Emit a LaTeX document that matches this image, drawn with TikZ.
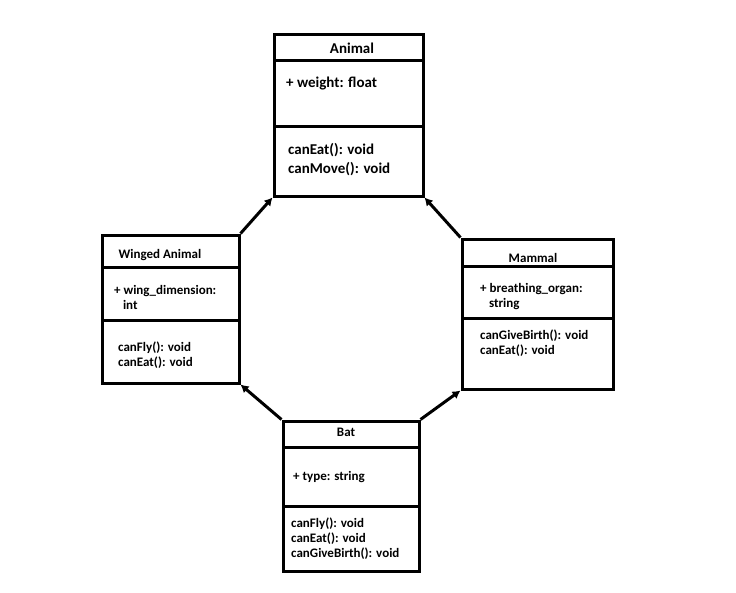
\documentclass[tikz,border=0pt]{standalone}
\usepackage{fontspec}
\setmainfont{Carlito}
\usetikzlibrary{arrows.meta}
\tikzset{
  box/.style={draw, line width=3pt, inner sep=0pt},
  txt/.style={anchor=west, align=left, font=\bfseries\fontsize{13}{15}\selectfont, inner sep=0pt},
  big/.style={font=\bfseries\fontsize{15}{19}\selectfont},
  ttl/.style={font=\bfseries\fontsize{13}{15}\selectfont, inner sep=0pt},
  inh/.style={line width=3pt, -{Latex[length=8pt,width=9pt]}}
}
\begin{document}
\begin{tikzpicture}[x=1pt, y=-1pt]
  \useasboundingbox (0,0) rectangle (736,592);

  % Animal
  \node[box, minimum width=149pt, minimum height=162pt] (animal) at (348.5,115) {};
  \draw[line width=3pt] (274,60) -- (423,60);
  \draw[line width=3pt] (274,126) -- (423,126);
  \node[ttl, big] (animalT) at (352,48) {Animal};
  \node[txt, big] (animalA) at (286,84) {+ weight: float};
  \node[txt, big] (animalM) at (288,160) {canEat(): void\\canMove(): void};

  % Winged Animal
  \node[box, minimum width=137pt, minimum height=148pt] (winged) at (170.5,309) {};
  \draw[line width=3pt] (102,267) -- (239,267);
  \draw[line width=3pt] (102,320) -- (239,320);
  \node[ttl] (wingedT) at (160,255) {Winged Animal};
  \node[txt] (wingedA) at (114,297) {+ wing\_dimension:\\\ \ \ int};
  \node[txt] (wingedM) at (118,355) {canFly(): void\\canEat(): void};

  % Mammal
  \node[box, minimum width=151pt, minimum height=150pt] (mammal) at (537.5,314) {};
  \draw[line width=3pt] (462,266) -- (613,266);
  \draw[line width=3pt] (462,318) -- (613,318);
  \node[ttl] (mammalT) at (533,258) {Mammal};
  \node[txt] (mammalA) at (480,297) {+ breathing\_organ:\\\ \ \ string};
  \node[txt] (mammalM) at (480,343) {canGiveBirth(): void\\canEat(): void};

  % Bat
  \node[box, minimum width=136pt, minimum height=150pt] (bat) at (351,496) {};
  \draw[line width=3pt] (283,447) -- (419,447);
  \draw[line width=3pt] (283,506) -- (419,506);
  \node[ttl] (batT) at (346,432) {Bat};
  \node[txt] (batA) at (293,477) {+ type: string};
  \node[txt] (batM) at (291,539) {canFly(): void\\canEat(): void\\canGiveBirth(): void};

  % inheritance
  \draw[inh] (winged.north east) -- (animal.south west);
  \draw[inh] (mammal.north west) -- (animal.south east);
  \draw[inh] (bat.north west) -- (winged.south east);
  \draw[inh] (bat.north east) -- (mammal.south west);
\end{tikzpicture}
\end{document}
